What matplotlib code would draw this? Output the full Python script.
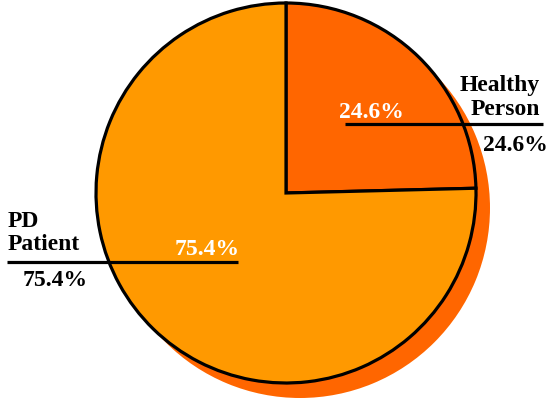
import matplotlib
matplotlib.use("Agg")
import matplotlib.pyplot as plt

categories = ["Healthy\nPerson", "PD\nPatient"]
values = [24.6, 75.4]
pct_labels = ["24.6%", "75.4%"]
colors = ["#FF6600", "#FF9900"]
shadow_color = "#FF6600"

W, H = 550, 404
fig = plt.figure(figsize=(5.5, 4.04), dpi=100)
ax = fig.add_axes([0, 0, 1, 1])

def Y(y):
    return H - y

cx, cy, r = 286, 193, 190
# shadow
ax.pie([1], colors=[shadow_color], center=(cx + 14, Y(cy + 15)), radius=r,
       wedgeprops=dict(linewidth=0))
# main pie
ax.pie(values, colors=colors, startangle=90, counterclock=False,
       center=(cx, Y(cy)), radius=r,
       wedgeprops=dict(edgecolor="black", linewidth=2.3))
ax.set_xlim(0, W)
ax.set_ylim(0, H)
ax.set_aspect("equal")
ax.axis("off")

font = dict(family="Liberation Serif", fontweight="bold", fontsize=17)

# Healthy person leader
ax.plot([345, 543], [Y(124), Y(124)], color="black", lw=2.3, solid_capstyle="butt")
ax.text(339, Y(118), pct_labels[0], color="white", ha="left", va="baseline", **font)
ax.text(540, Y(115), categories[0], color="black", ha="right", va="baseline",
        linespacing=1.2, **font)
ax.text(548, Y(151), pct_labels[0], color="black", ha="right", va="baseline", **font)

# PD patient leader
ax.plot([7, 238], [Y(262), Y(262)], color="black", lw=2.3, solid_capstyle="butt")
ax.text(240, Y(255), pct_labels[1], color="white", ha="right", va="baseline", **font)
ax.text(8, Y(250), categories[1], color="black", ha="left", va="baseline",
        linespacing=1.15, **font)
ax.text(23, Y(286), pct_labels[1], color="black", ha="left", va="baseline", **font)

fig.savefig("out.png", dpi=100)
